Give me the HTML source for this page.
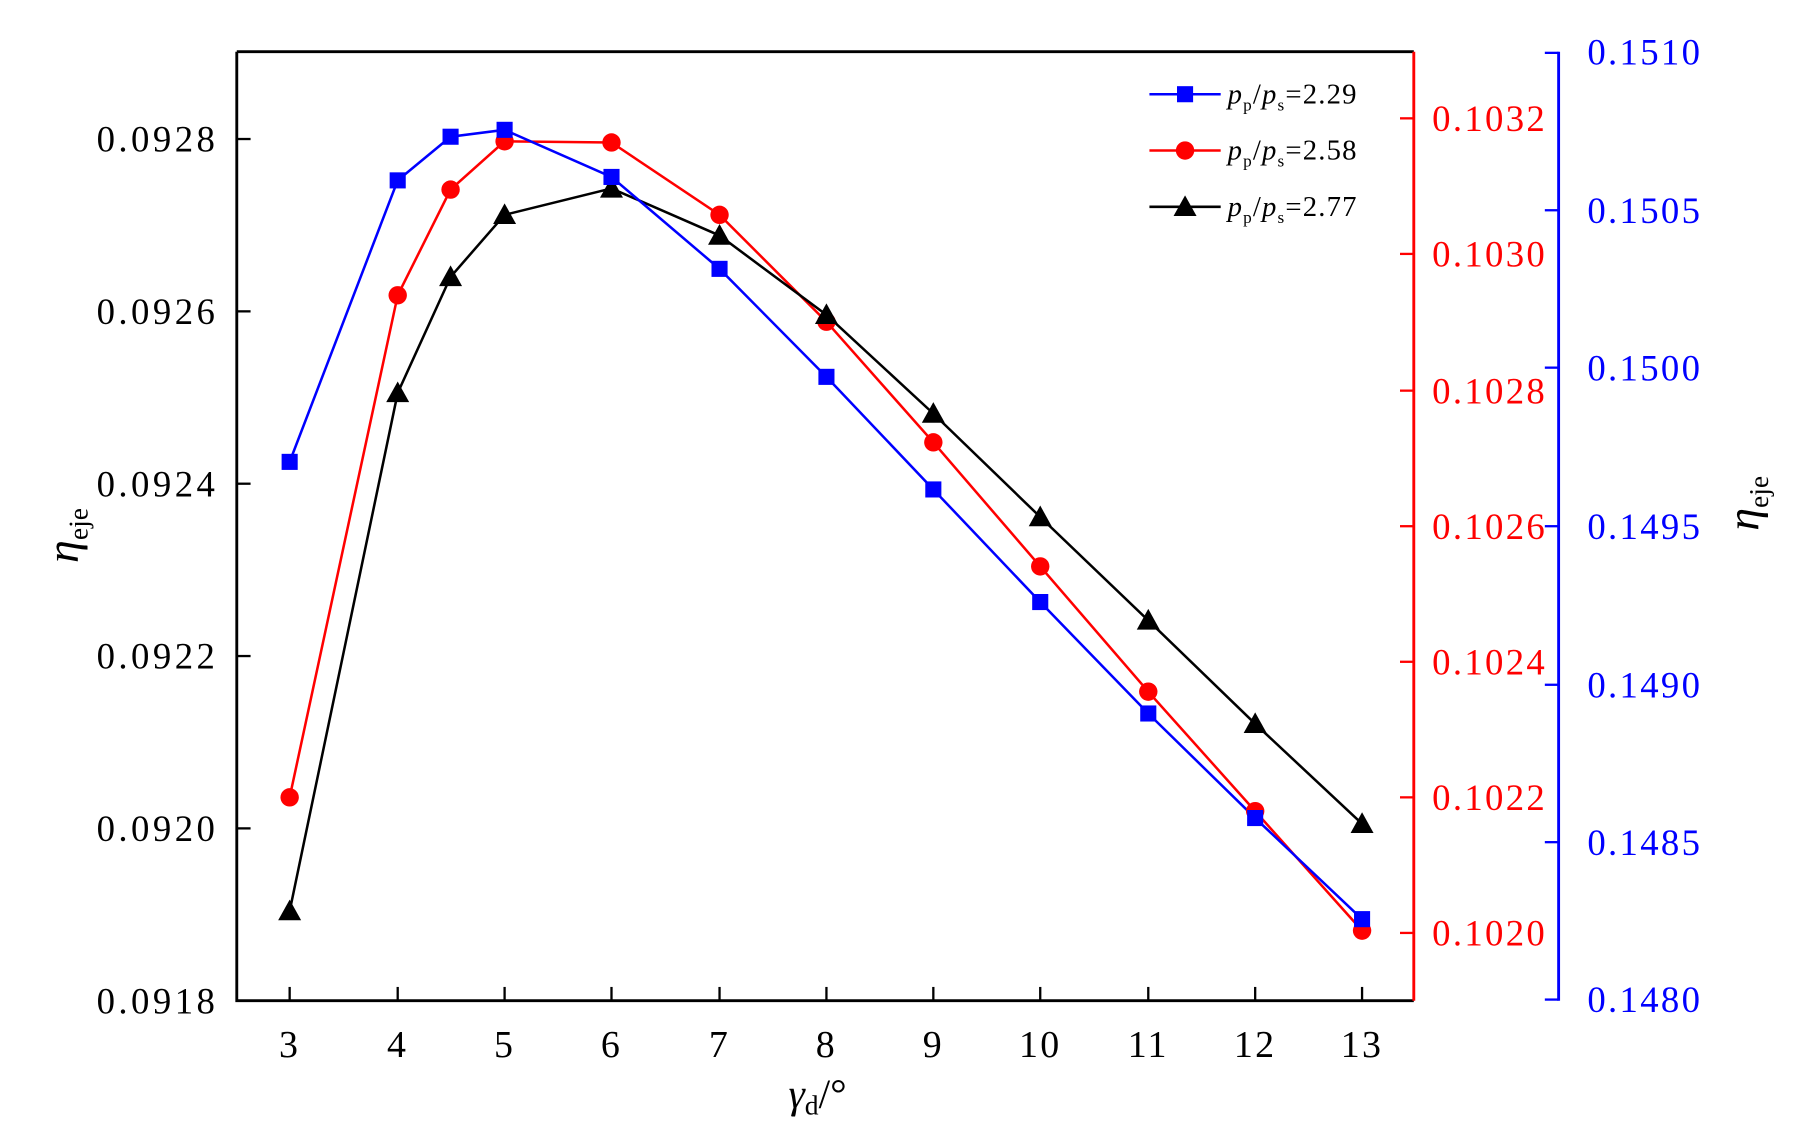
<!DOCTYPE html>
<html><head><meta charset="utf-8"><style>
html,body{margin:0;padding:0;background:#fff;}
svg{display:block;}
text{font-family:"Liberation Serif",serif;}
</style></head><body>
<svg width="1800" height="1134" viewBox="0 0 1566 987" preserveAspectRatio="none" xmlns="http://www.w3.org/2000/svg">
<rect width="1566" height="987" fill="#fff"/>
<path d="M206,45 H1230 M206,45 V871 H1230" stroke="#000" stroke-width="2.5" fill="none"/>
<line x1="1230" y1="45" x2="1230" y2="871" stroke="#f00" stroke-width="2.5"/>
<line x1="1356" y1="45" x2="1356" y2="871" stroke="#00f" stroke-width="2.5"/>
<g stroke="#000" stroke-width="2">
<line x1="206" y1="121" x2="218" y2="121"/><line x1="206" y1="271" x2="218" y2="271"/><line x1="206" y1="421" x2="218" y2="421"/><line x1="206" y1="571" x2="218" y2="571"/><line x1="206" y1="721" x2="218" y2="721"/>
<line x1="252" y1="871" x2="252" y2="859"/><line x1="346" y1="871" x2="346" y2="859"/><line x1="439" y1="871" x2="439" y2="859"/><line x1="532" y1="871" x2="532" y2="859"/><line x1="626" y1="871" x2="626" y2="859"/><line x1="719" y1="871" x2="719" y2="859"/><line x1="812" y1="871" x2="812" y2="859"/><line x1="905" y1="871" x2="905" y2="859"/><line x1="999" y1="871" x2="999" y2="859"/><line x1="1092" y1="871" x2="1092" y2="859"/><line x1="1185" y1="871" x2="1185" y2="859"/>
</g>
<g font-size="32" text-anchor="end" fill="#000" letter-spacing="3">
<text x="190" y="132">0.0928</text><text x="190" y="282">0.0926</text><text x="190" y="432">0.0924</text><text x="190" y="582">0.0922</text><text x="190" y="732">0.0920</text><text x="190" y="882">0.0918</text>
</g>
<g font-size="33" text-anchor="middle" fill="#000" letter-spacing="2">
<text x="252" y="920">3</text><text x="346" y="920">4</text><text x="439" y="920">5</text><text x="532" y="920">6</text><text x="626" y="920">7</text><text x="719" y="920">8</text><text x="812" y="920">9</text><text x="905" y="920">10</text><text x="999" y="920">11</text><text x="1092" y="920">12</text><text x="1185" y="920">13</text>
</g>
<g stroke="#f00" stroke-width="2">
<line x1="1218" y1="103" x2="1230" y2="103"/><line x1="1218" y1="221" x2="1230" y2="221"/><line x1="1218" y1="340" x2="1230" y2="340"/><line x1="1218" y1="458" x2="1230" y2="458"/><line x1="1218" y1="576" x2="1230" y2="576"/><line x1="1218" y1="694" x2="1230" y2="694"/><line x1="1218" y1="812" x2="1230" y2="812"/>
</g>
<g font-size="32" fill="#f00" letter-spacing="2">
<text x="1246" y="114">0.1032</text><text x="1246" y="232">0.1030</text><text x="1246" y="351">0.1028</text><text x="1246" y="469">0.1026</text><text x="1246" y="587">0.1024</text><text x="1246" y="705">0.1022</text><text x="1246" y="823">0.1020</text>
</g>
<g stroke="#00f" stroke-width="2">
<line x1="1344" y1="46" x2="1356" y2="46"/><line x1="1344" y1="183" x2="1356" y2="183"/><line x1="1344" y1="320" x2="1356" y2="320"/><line x1="1344" y1="458" x2="1356" y2="458"/><line x1="1344" y1="596" x2="1356" y2="596"/><line x1="1344" y1="733" x2="1356" y2="733"/><line x1="1344" y1="870" x2="1356" y2="870"/>
</g>
<g font-size="32" fill="#00f" letter-spacing="2">
<text x="1381" y="56">0.1510</text><text x="1381" y="194">0.1505</text><text x="1381" y="331">0.1500</text><text x="1381" y="469">0.1495</text><text x="1381" y="607">0.1490</text><text x="1381" y="744">0.1485</text><text x="1381" y="881">0.1480</text>
</g>
<text transform="translate(68,490) rotate(-90)" font-size="40" font-style="italic">η<tspan font-size="24" font-style="normal" dy="8">eje</tspan></text>
<text transform="translate(1530,462) rotate(-90)" font-size="40" font-style="italic">η<tspan font-size="24" font-style="normal" dy="8">eje</tspan></text>
<text x="686" y="964" font-size="36" font-style="italic">γ<tspan font-size="24" font-style="normal" dy="6">d</tspan><tspan dy="-6" font-style="normal">/°</tspan></text>
<polyline fill="none" stroke="#f00" stroke-width="2.2" points="252,694 346,257 392,165 439,123 532,124 626,187 719,280 812,385 905,493 999,602 1092,706 1185,810"/>
<polyline fill="none" stroke="#000" stroke-width="2.2" points="252,793 346,342 392,241 439,187 532,164 626,205 719,274 812,360 905,450 999,540 1092,630 1185,717"/>
<polyline fill="none" stroke="#00f" stroke-width="2.2" points="252,402 346,157 392,119 439,113 532,154 626,234 719,328 812,426 905,524 999,621 1092,712 1185,800"/>
<g fill="#f00">
<circle cx="252" cy="694" r="8"/><circle cx="346" cy="257" r="8"/><circle cx="392" cy="165" r="8"/><circle cx="439" cy="123" r="8"/><circle cx="532" cy="124" r="8"/><circle cx="626" cy="187" r="8"/><circle cx="719" cy="280" r="8"/><circle cx="812" cy="385" r="8"/><circle cx="905" cy="493" r="8"/><circle cx="999" cy="602" r="8"/><circle cx="1092" cy="706" r="8"/><circle cx="1185" cy="810" r="8"/>
</g>
<g fill="#000">
<path d="M252,783 l10,18 h-20z"/><path d="M346,332 l10,18 h-20z"/><path d="M392,231 l10,18 h-20z"/><path d="M439,177 l10,18 h-20z"/><path d="M532,154 l10,18 h-20z"/><path d="M626,195 l10,18 h-20z"/><path d="M719,264 l10,18 h-20z"/><path d="M812,350 l10,18 h-20z"/><path d="M905,440 l10,18 h-20z"/><path d="M999,530 l10,18 h-20z"/><path d="M1092,620 l10,18 h-20z"/><path d="M1185,707 l10,18 h-20z"/>
</g>
<g fill="#00f">
<rect x="245" y="395" width="14" height="14"/><rect x="339" y="150" width="14" height="14"/><rect x="385" y="112" width="14" height="14"/><rect x="432" y="106" width="14" height="14"/><rect x="525" y="147" width="14" height="14"/><rect x="619" y="227" width="14" height="14"/><rect x="712" y="321" width="14" height="14"/><rect x="805" y="419" width="14" height="14"/><rect x="898" y="517" width="14" height="14"/><rect x="992" y="614" width="14" height="14"/><rect x="1085" y="705" width="14" height="14"/><rect x="1178" y="793" width="14" height="14"/>
</g>
<line x1="1000" y1="82" x2="1062" y2="82" stroke="#00f" stroke-width="2.2"/><rect x="1024" y="75" width="14" height="14" fill="#00f"/>
<line x1="1000" y1="131" x2="1062" y2="131" stroke="#f00" stroke-width="2.2"/><circle cx="1031" cy="131" r="8" fill="#f00"/>
<line x1="1000" y1="180" x2="1062" y2="180" stroke="#000" stroke-width="2.2"/><path d="M1031,170 l10,18 h-20z" fill="#000"/>
<g font-size="25" fill="#000" letter-spacing="1">
<text x="1068" y="90"><tspan font-style="italic">p</tspan><tspan font-size="15" dy="6">p</tspan><tspan dy="-6">/</tspan><tspan font-style="italic">p</tspan><tspan font-size="15" dy="6">s</tspan><tspan dy="-6">=2.29</tspan></text>
<text x="1068" y="139"><tspan font-style="italic">p</tspan><tspan font-size="15" dy="6">p</tspan><tspan dy="-6">/</tspan><tspan font-style="italic">p</tspan><tspan font-size="15" dy="6">s</tspan><tspan dy="-6">=2.58</tspan></text>
<text x="1068" y="188"><tspan font-style="italic">p</tspan><tspan font-size="15" dy="6">p</tspan><tspan dy="-6">/</tspan><tspan font-style="italic">p</tspan><tspan font-size="15" dy="6">s</tspan><tspan dy="-6">=2.77</tspan></text>
</g>
</svg>
</body></html>
